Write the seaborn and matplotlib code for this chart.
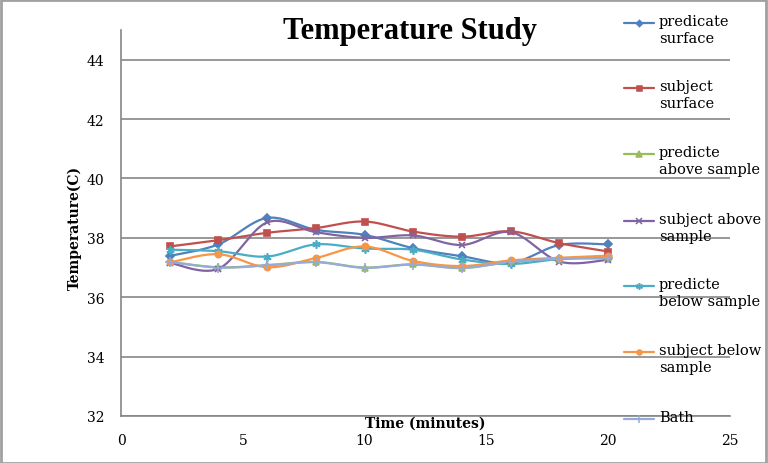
import numpy as np
import pandas as pd
import matplotlib
matplotlib.use("Agg")
import matplotlib.pyplot as plt
from matplotlib.lines import Line2D
from matplotlib.patches import Rectangle
import seaborn as sns

# readings every 2 minutes
time_min = [2, 4, 6, 8, 10, 12, 14, 16, 18, 20]
predicate_surface = [37.39, 37.78, 38.67, 38.27, 38.10, 37.65, 37.38, 37.15, 37.76, 37.78]
subject_surface = [37.71, 37.92, 38.17, 38.33, 38.55, 38.21, 38.04, 38.22, 37.82, 37.54]
predicte_above = [37.19, 37.01, 37.08, 37.19, 37.00, 37.11, 36.99, 37.19, 37.29, 37.32]
subject_above = [37.16, 36.96, 38.52, 38.19, 38.00, 38.08, 37.76, 38.19, 37.20, 37.26]
predicte_below = [37.60, 37.55, 37.37, 37.78, 37.64, 37.60, 37.27, 37.12, 37.29, 37.37]
subject_below = [37.17, 37.45, 37.01, 37.32, 37.71, 37.22, 37.05, 37.24, 37.33, 37.40]
bath = [37.19, 37.00, 37.07, 37.18, 36.99, 37.10, 36.98, 37.19, 37.30, 37.31]

labels = ["predicate\nsurface", "subject\nsurface", "predicte\nabove sample",
          "subject above\nsample", "predicte\nbelow sample", "subject below\nsample", "Bath"]
colors = ["#4F81BD", "#C0504D", "#9BBB59", "#8064A2", "#4BACC6", "#F79646", "#95ABD8"]
markers = ["D", "s", "^", "x", (6, 2, 0), "o", "+"]
msizes = [4, 4.5, 5, 5, 6, 4.5, 7]

series = [predicate_surface, subject_surface, predicte_above, subject_above,
          predicte_below, subject_below, bath]


def smooth(x, y, steps=24):
    # excel-like smoothed line (bezier through the points)
    x = np.asarray(x, float)
    y = np.asarray(y, float)
    px = np.concatenate([[x[0]], x, [x[-1]]])
    py = np.concatenate([[y[0]], y, [y[-1]]])
    xs, ys = [], []
    t = np.linspace(0, 1, steps)
    for i in range(1, len(px) - 2):
        p0 = np.array([px[i], py[i]])
        p3 = np.array([px[i + 1], py[i + 1]])
        c1 = p0 + (np.array([px[i + 1], py[i + 1]]) - np.array([px[i - 1], py[i - 1]])) / 6
        c2 = p3 - (np.array([px[i + 2], py[i + 2]]) - np.array([px[i], py[i]])) / 6
        b = ((1 - t) ** 3)[:, None] * p0 + (3 * (1 - t) ** 2 * t)[:, None] * c1 \
            + (3 * (1 - t) * t ** 2)[:, None] * c2 + (t ** 3)[:, None] * p3
        xs.extend(b[:, 0])
        ys.extend(b[:, 1])
    return xs, ys


sns.set_style("white")
plt.rcParams["font.family"] = ["DejaVu Serif"]
plt.rcParams["text.color"] = "black"

fig = plt.figure(figsize=(7.68, 4.64), dpi=100)
ax = fig.add_axes([121 / 768, 47 / 464, 609 / 768, 386 / 464])

for vals, col, mk, ms in zip(series, colors, markers, msizes):
    sx, sy = smooth(time_min, vals)
    curve = pd.DataFrame({"t": sx, "v": sy})
    sns.lineplot(data=curve, x="t", y="v", sort=False, estimator=None,
                 color=col, linewidth=1.6, ax=ax)
    pts = pd.DataFrame({"t": time_min, "v": vals})
    ax.plot(pts["t"], pts["v"], linestyle="none", marker=mk, markersize=ms,
            color=col, markeredgewidth=1.2, zorder=3)

ax.set_xlim(0, 25)
ax.set_ylim(32, 45)
ax.set_xticks(range(0, 26, 5))
ax.set_yticks(range(32, 45, 2))
ax.yaxis.grid(True, color="#868686", linewidth=1.2)
ax.set_axisbelow(True)
for s in ["top", "right"]:
    ax.spines[s].set_visible(False)
for s in ["left", "bottom"]:
    ax.spines[s].set_color("#868686")
    ax.spines[s].set_linewidth(1.2)
ax.tick_params(axis="both", length=0, labelsize=10, colors="black")
ax.tick_params(axis="x", pad=12)
ax.tick_params(axis="y", pad=12)
ax.set_xlabel("")
ax.set_ylabel("")

fig.text(410 / 768, 1 - 31 / 464, "Temperature Study", ha="center", va="center",
         fontsize=22, fontweight="bold", family="Liberation Serif")
fig.text(425 / 768, 1 - 424 / 464, "Time (minutes)", ha="center", va="center",
         fontsize=10, fontweight="bold")
fig.text(75 / 768, 1 - 228 / 464, "Temperature(C)", ha="center", va="center",
         rotation=90, fontsize=10, fontweight="bold")

# legend drawn at the right, on top of the gridlines
leg_y = [24, 89, 155, 222, 287, 353, 420]
for lab, col, mk, ms, yy in zip(labels, colors, markers, msizes, leg_y):
    yf = 1 - yy / 464
    fig.add_artist(Line2D([624 / 768, 654 / 768], [yf, yf], color=col, linewidth=1.6,
                          transform=fig.transFigure))
    fig.add_artist(Line2D([639 / 768], [yf], color=col, marker=mk, markersize=ms * 0.8,
                          markeredgewidth=1.1, transform=fig.transFigure))
    fig.text(659 / 768, 1 - (yy - 9) / 464, lab, ha="left", va="top",
             fontsize=10.5, linespacing=1.25)

fig.add_artist(Rectangle((0.001, 0.001), 0.997, 0.996, transform=fig.transFigure,
                         fill=False, edgecolor="#A0A0A0", linewidth=2))

fig.savefig("out.png", dpi=100)
